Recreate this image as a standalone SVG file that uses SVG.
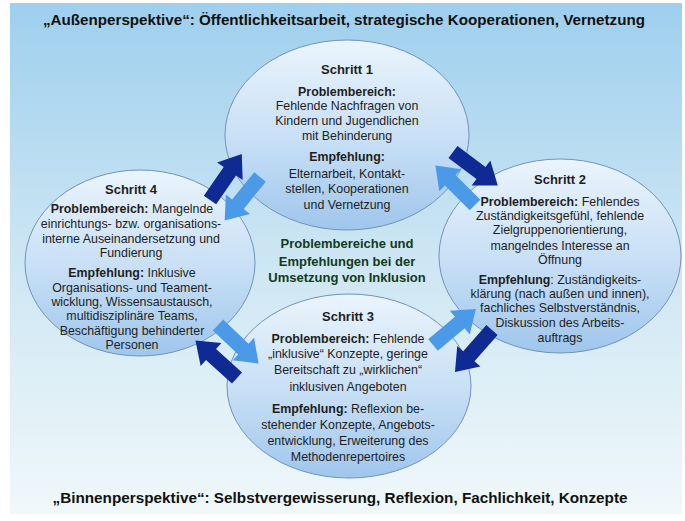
<svg xmlns="http://www.w3.org/2000/svg" xmlns:xlink="http://www.w3.org/1999/xlink" width="685" height="521" viewBox="0 0 685 521">
<defs>
<linearGradient id="bg" x1="0" y1="0" x2="0" y2="1">
<stop offset="0" stop-color="#9ecfee"/>
<stop offset="0.5" stop-color="#cde6f3"/>
<stop offset="1" stop-color="#f0f8fa"/>
</linearGradient>
<linearGradient id="ell" x1="0" y1="0" x2="0" y2="1">
<stop offset="0" stop-color="#eaf4fc"/>
<stop offset="0.55" stop-color="#c6def5"/>
<stop offset="1" stop-color="#9fc6ec"/>
</linearGradient>
<path id="arrow" d="M0,-7.5 L35,-7.5 L35,-15.5 L56,0 L35,15.5 L35,7.5 L0,7.5 Z"/>
<style>
.e{fill:url(#ell);stroke:#7193b8;stroke-width:1}
text{font-family:"Liberation Sans",Arial,sans-serif;fill:#1e1e1e;text-anchor:middle}
.t{font-size:12.4px}
.h{font-size:13px;font-weight:bold}
.b{font-weight:bold}
.title{font-size:15px;font-weight:bold;fill:#111}
.c{font-size:13px;font-weight:bold;fill:#123a1b}
.dark{fill:#0f2a93}
.light{fill:#4b9ae8}
</style>
</defs>
<rect x="0" y="0" width="685" height="521" fill="#ffffff"/>
<rect x="10" y="3" width="672" height="511" fill="url(#bg)"/>
<text class="title" x="344" y="25" textLength="602" lengthAdjust="spacingAndGlyphs">„Außenperspektive“: Öffentlichkeitsarbeit, strategische Kooperationen, Vernetzung</text>
<text class="title" x="340" y="503" textLength="575" lengthAdjust="spacingAndGlyphs">„Binnenperspektive“: Selbstvergewisserung, Reflexion, Fachlichkeit, Konzepte</text>

<g id="node4">
<ellipse class="e" cx="140" cy="263" rx="115" ry="93"/>
<text class="h" x="131" y="194">Schritt 4</text>
<text class="t" x="132" y="213"><tspan class="b">Problembereich:</tspan> Mangelnde</text>
<text class="t" x="131" y="228">einrichtungs- bzw. organisations-</text>
<text class="t" x="131" y="243">interne Auseinandersetzung und</text>
<text class="t" x="131" y="257">Fundierung</text>
<text class="t" x="132" y="277"><tspan class="b">Empfehlung:</tspan> Inklusive</text>
<text class="t" x="132" y="292">Organisations- und Teament-</text>
<text class="t" x="132" y="306">wicklung, Wissensaustausch,</text>
<text class="t" x="132" y="320">multidisziplinäre Teams,</text>
<text class="t" x="132" y="335">Beschäftigung  behinderter</text>
<text class="t" x="132" y="349">Personen</text>
</g>

<g id="node2">
<ellipse class="e" cx="560" cy="256" rx="121" ry="97"/>
<text class="h" x="560" y="184">Schritt 2</text>
<text class="t" x="560" y="206"><tspan class="b">Problembereich:</tspan> Fehlendes</text>
<text class="t" x="560" y="220">Zuständigkeitsgefühl, fehlende</text>
<text class="t" x="560" y="234">Zielgruppenorientierung,</text>
<text class="t" x="560" y="250">mangelndes Interesse an</text>
<text class="t" x="560" y="264">Öffnung</text>
<text class="t" x="560" y="284"><tspan class="b">Empfehlung</tspan>: Zuständigkeits-</text>
<text class="t" x="560" y="298">klärung (nach außen und innen),</text>
<text class="t" x="560" y="312">fachliches Selbstverständnis,</text>
<text class="t" x="560" y="327">Diskussion des Arbeits-</text>
<text class="t" x="560" y="342">auftrags</text>
</g>

<g id="node3">
<ellipse class="e" cx="349" cy="386" rx="122" ry="92"/>
<text class="h" x="348" y="321">Schritt 3</text>
<text class="t" x="348" y="343"><tspan class="b">Problembereich:</tspan> Fehlende</text>
<text class="t" x="348" y="358">„inklusive“ Konzepte, geringe</text>
<text class="t" x="348" y="374">Bereitschaft zu „wirklichen“</text>
<text class="t" x="348" y="391">inklusiven Angeboten</text>
<text class="t" x="348" y="413"><tspan class="b">Empfehlung:</tspan> Reflexion be-</text>
<text class="t" x="348" y="429">stehender Konzepte, Angebots-</text>
<text class="t" x="348" y="445">entwicklung, Erweiterung des</text>
<text class="t" x="348" y="461">Methodenrepertoires</text>
</g>

<g id="node1">
<ellipse class="e" cx="347" cy="135" rx="122" ry="95"/>
<text class="h" x="347" y="74">Schritt 1</text>
<text class="t b" x="347" y="96">Problembereich:</text>
<text class="t" x="347" y="110">Fehlende Nachfragen von</text>
<text class="t" x="347" y="125">Kindern und Jugendlichen</text>
<text class="t" x="347" y="140">mit Behinderung</text>
<text class="t b" x="347" y="161">Empfehlung:</text>
<text class="t" x="347" y="178">Elternarbeit, Kontakt-</text>
<text class="t" x="347" y="193">stellen, Kooperationen</text>
<text class="t" x="347" y="209">und Vernetzung</text>
</g>

<g id="center">
<text class="c" x="347" y="248">Problembereiche und</text>
<text class="c" x="347" y="266">Empfehlungen bei der</text>
<text class="c" x="347" y="282">Umsetzung von Inklusion</text>
</g>

<g id="connectors">
<use xlink:href="#arrow" class="dark" transform="translate(210,200) rotate(-55.4)"/>
<use xlink:href="#arrow" class="light" transform="translate(260,177) rotate(129.1)"/>
<use xlink:href="#arrow" class="dark" transform="translate(453,152) rotate(36.9)"/>
<use xlink:href="#arrow" class="light" transform="translate(475,205) rotate(-135)"/>
<use xlink:href="#arrow" class="light" transform="translate(218,325) rotate(43.5)"/>
<use xlink:href="#arrow" class="dark" transform="translate(237,378) rotate(-137.9)"/>
<use xlink:href="#arrow" class="light" transform="translate(433,345) rotate(-40)"/>
<use xlink:href="#arrow" class="dark" transform="translate(492,330) rotate(131.4)"/>
</g>
</svg>
